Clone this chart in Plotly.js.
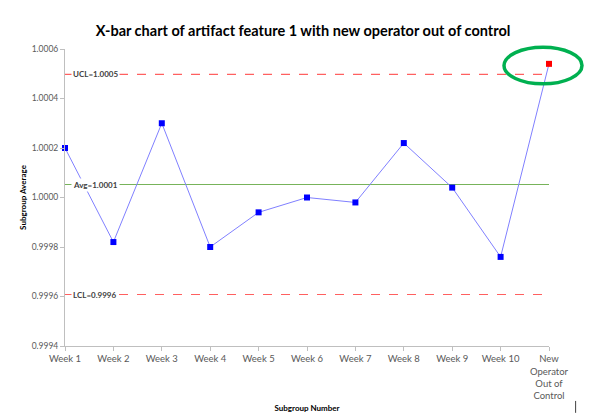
<!DOCTYPE html>
<html>
<head>
<meta charset="utf-8">
<script src="https://cdn.plot.ly/plotly-3.0.1.min.js"></script>
<style>html,body{margin:0;padding:0;background:#fff}#chart{width:600px;height:417px}</style>
</head>
<body>
<div id="chart"></div>
<script>
const categories = ['Week 1','Week 2','Week 3','Week 4','Week 5','Week 6','Week 7','Week 8','Week 9','Week 10','New<br>Operator<br>Out of<br>Control'];
const subgroupAverages = [1.0002, 0.99982, 1.0003, 0.9998, 0.99994, 1.0000, 0.99998, 1.00022, 1.00004, 0.99976, 1.00054];
const ucl = 1.0004975;
const avg = 1.0000525;
const lcl = 0.999608;
const limitLabels = ['UCL=1.0005', 'Avg=1.0001', 'LCL=0.9996'];
const yTicks = [0.9994, 0.9996, 0.9998, 1.0000, 1.0002, 1.0004, 1.0006];

const font = 'Lato, "Open Sans", sans-serif';
const n = categories.length;
const lastIdx = n - 1;
const inControl = subgroupAverages.map((v,i)=> i < lastIdx ? v : null);
const outControl = subgroupAverages.map((v,i)=> i === lastIdx ? v : null);

const traces = [
  {x: categories, y: categories.map(()=>ucl), mode:'lines', line:{color:'#ff6060', width:1.2, dash:'dash'}, hoverinfo:'skip'},
  {x: categories, y: categories.map(()=>avg), mode:'lines', line:{color:'#77b35a', width:1.2}, hoverinfo:'skip'},
  {x: categories, y: categories.map(()=>lcl), mode:'lines', line:{color:'#ff6060', width:1.2, dash:'dash'}, hoverinfo:'skip'},
  {x: categories, y: subgroupAverages, mode:'lines', line:{color:'#8080ff', width:1}, cliponaxis:false},
  {x: categories, y: inControl, mode:'markers', marker:{symbol:'square', size:6, color:'#0000ff'}, cliponaxis:false},
  {x: categories, y: outControl, mode:'markers', marker:{symbol:'square', size:6, color:'#ff0000'}, cliponaxis:false}
];

const margin = {l:65, r:51, t:49, b:71};
const plotW = 600 - margin.l - margin.r;
const plotH = 417 - margin.t - margin.b;
const yMin = yTicks[0], yMax = yTicks[yTicks.length-1];
const lastVal = subgroupAverages[lastIdx];
const lastPx = 1; // last category sits at the right end of the axis
const lastPy = (lastVal - yMin) / (yMax - yMin);

const layout = {
  width:600, height:417,
  margin:margin,
  paper_bgcolor:'#fff', plot_bgcolor:'#fff',
  showlegend:false,
  font:{family:font, color:'#595959', size:9},
  title:{text:'<b>X-bar chart of artifact feature 1 with new operator out of control</b>', font:{family:font, size:14.5, color:'#000'}, x:0.505, xanchor:'center', y:0.927, yanchor:'middle'},
  xaxis:{
    type:'category', range:[0, lastIdx],
    showgrid:false, zeroline:false,
    showline:true, linecolor:'#bfbfbf', linewidth:1,
    ticks:'outside', ticklen:4, tickcolor:'#bfbfbf',
    tickfont:{family:font, size:9.5, color:'#595959'},
    title:{text:'<b>Subgroup Number</b>', font:{family:font, size:8, color:'#000'}, standoff:4}
  },
  yaxis:{
    range:[yMin, yMax],
    tickvals:yTicks, ticktext:yTicks.map(v=>v.toFixed(4)),
    showgrid:false, zeroline:false,
    showline:true, linecolor:'#bfbfbf', linewidth:1,
    ticks:'outside', ticklen:4, tickcolor:'#bfbfbf',
    tickfont:{family:font, size:8.5, color:'#595959'},
    title:{text:'<b>Subgroup Average</b>', font:{family:font, size:8, color:'#000'}, standoff:3}
  },
  annotations:[ucl, avg, lcl].map((v,i)=>({
    xref:'paper', yref:'y', x:0, y:v, xanchor:'left', yanchor:'middle', xshift:6,
    text:'<b>'+limitLabels[i]+'</b>', showarrow:false, bgcolor:'#ffffff',
    font:{family:font, size:8, color:'#404040'}, borderpad:1
  })),
  shapes:[
    {type:'circle', xref:'paper', yref:'paper',
     x0:lastPx - 45/plotW, x1:lastPx + 33/plotW,
     y0:lastPy - 20/plotH, y1:lastPy + 16.5/plotH,
     line:{color:'#00b050', width:3.5}, layer:'above'},
    {type:'line', xref:'paper', yref:'paper', x0:1.055, x1:1.055, y0:-0.185, y1:-0.225, line:{color:'#404040', width:1}}
  ]
};

Plotly.newPlot('chart', traces, layout, {displayModeBar:false, staticPlot:true});
</script>
</body>
</html>
